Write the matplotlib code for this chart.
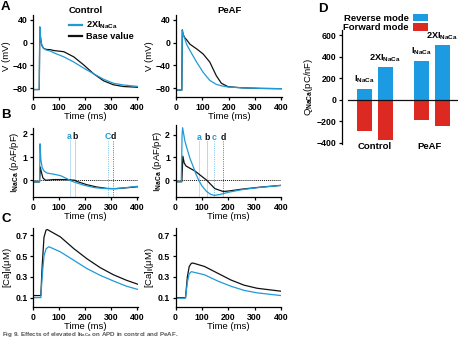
import matplotlib
matplotlib.use('Agg')
import matplotlib.pyplot as plt

plt.rcParams['font.family'] = ['Liberation Sans', 'DejaVu Sans']
plt.rcParams['font.weight'] = 'bold'
plt.rcParams['mathtext.fontset'] = 'custom'
plt.rcParams['mathtext.rm'] = 'Liberation Sans:bold'
plt.rcParams['mathtext.it'] = 'Liberation Sans:bold'
plt.rcParams['mathtext.bf'] = 'Liberation Sans:bold'
plt.rcParams['axes.linewidth'] = 0.9
plt.rcParams['xtick.major.width'] = 0.9
plt.rcParams['ytick.major.width'] = 0.9
plt.rcParams['xtick.major.size'] = 2.5
plt.rcParams['ytick.major.size'] = 2.5
plt.rcParams['xtick.major.pad'] = 1.5
plt.rcParams['ytick.major.pad'] = 1.5
plt.rcParams['xtick.labelsize'] = 6.3
plt.rcParams['ytick.labelsize'] = 6.3

BLUE = '#1f9ad6'
BLACK = '#111111'

# ---- A: action potentials (time ms, V mV)
ap_ctl_t = [0, 24, 26, 29, 33, 40, 50, 67, 80, 118, 156, 194, 232, 270, 308, 346, 400]
ap_ctl_base = [-82, -82, 27, 8, -4, -10, -12, -12.5, -14, -16, -25, -39, -54.5, -66.7, -73.7, -76.7, -78]
ap_ctl_2x = [-82, -82, 27, 8, -4, -10, -13, -15, -18, -25, -34, -44.6, -54.5, -64, -71, -74, -76.5]
ap_af_t = [0, 22, 24, 27, 34, 40, 53, 78, 103, 128, 153, 172, 197, 250, 320, 400]
ap_af_base = [-83, -83, 22, 14, 8, 5, -3, -11, -20, -34, -58, -71, -77, -79, -80, -80.5]
ap_af_2x = [-83, -83, 22, 14, 5.7, -3, -14, -34, -52, -66, -73, -75.5, -77.5, -79, -80, -80.5]

# ---- B: INaCa (pA/pF)
inc_ctl_2x_t = [0, 25, 27, 30, 35, 42, 54, 80, 105, 130, 140, 156, 194, 232, 270, 288, 308, 346, 400]
inc_ctl_2x = [-0.07, -0.07, 1.57, 0.9, 0.55, 0.4, 0.31, 0.26, 0.2, 0.07, 0.0, -0.07, -0.21, -0.31, -0.355, -0.36, -0.36, -0.33, -0.26]
inc_ctl_base_t = [0, 25, 28, 32, 38, 48, 80, 130, 160, 168, 206, 244, 282, 307, 320, 400]
inc_ctl_base = [-0.07, -0.07, 0.57, 0.35, 0.1, 0.0, 0.03, 0.03, 0.0, -0.05, -0.19, -0.29, -0.35, -0.36, -0.36, -0.28]
inc_af_2x_t = [0, 22, 25, 27, 35, 42, 55, 67, 78, 88, 100, 118, 133, 147, 168, 206, 256, 319, 400]
inc_af_2x = [-0.07, -0.07, 2.0, 2.3, 1.75, 1.45, 0.95, 0.6, 0.25, 0.0, -0.25, -0.5, -0.62, -0.67, -0.63, -0.52, -0.41, -0.32, -0.23]
inc_af_base_t = [0, 24, 28, 33, 40, 55, 74, 99, 118, 149, 181, 206, 256, 320, 400]
inc_af_base = [-0.07, -0.07, 1.05, 0.75, 0.62, 0.52, 0.4, 0.17, 0.0, -0.37, -0.5, -0.47, -0.39, -0.31, -0.23]

# marker times (a, b, c, d)
marks_ctl = [140, 160, 288, 307]
marks_af = [90, 118, 147, 181]
mark_names_ctl = ['a', 'b', 'C', 'd']
mark_names_af = ['a', 'b', 'c', 'd']

# ---- C: [Ca]i (uM)
ca_ctl_base_t = [0, 30, 35, 42, 50, 55, 105, 156, 206, 257, 308, 358, 400]
ca_ctl_base = [0.12, 0.12, 0.4, 0.68, 0.75, 0.755, 0.684, 0.572, 0.475, 0.389, 0.32, 0.267, 0.23]
ca_ctl_2x_t = [0, 30, 35, 42, 50, 61, 105, 156, 206, 257, 308, 358, 400]
ca_ctl_2x = [0.1, 0.1, 0.3, 0.5, 0.57, 0.59, 0.54, 0.46, 0.38, 0.315, 0.26, 0.21, 0.18]
ca_af_base_t = [0, 38, 45, 52, 60, 66, 110, 160, 210, 260, 310, 400]
ca_af_base = [0.1, 0.1, 0.3, 0.4, 0.43, 0.433, 0.40, 0.335, 0.27, 0.22, 0.19, 0.162]
ca_af_2x_t = [0, 38, 45, 52, 60, 110, 160, 210, 260, 310, 400]
ca_af_2x = [0.095, 0.095, 0.25, 0.33, 0.35, 0.32, 0.26, 0.21, 0.17, 0.146, 0.12]

# ---- D: QNaCa (pC/nF)
groups = ['Control', 'PeAF']
reverse_inaca = [100, 360]
reverse_2x = [310, 515]
forward_inaca = [-290, -185]
forward_2x = [-375, -245]

fig = plt.figure(figsize=(4.74, 3.38), dpi=100)
W, H = 474.0, 338.0


def add_ax(x0, x1, y0, y1):
    a = fig.add_axes([x0 / W, 1 - y1 / H, (x1 - x0) / W, (y1 - y0) / H])
    a.spines['top'].set_visible(False)
    a.spines['right'].set_visible(False)
    return a


def time_axis(ax):
    ax.set_xlim(0, 402)
    ax.set_xticks([0, 100, 200, 300, 400])
    ax.set_xlabel('Time (ms)', fontsize=6.8, labelpad=0.5)


# A
axA1 = add_ax(33, 138, 15, 97)
axA2 = add_ax(176, 282, 15, 97)
for ax, t, base, dbl, title in [(axA1, ap_ctl_t, ap_ctl_base, ap_ctl_2x, 'Control'),
                                (axA2, ap_af_t, ap_af_base, ap_af_2x, 'PeAF')]:
    ax.plot(t, base, color=BLACK, lw=0.9, label='Base value')
    ax.plot(t, dbl, color=BLUE, lw=0.9, label='2XI$_{NaCa}$')
    ax.set_ylim(-95, 48)
    ax.set_yticks([-80, -40, 0, 40])
    time_axis(ax)
    ax.set_title(title, fontsize=6.8, fontweight='bold', pad=1)
    ax.set_ylabel('V (mV)', fontsize=6.8, labelpad=1)
h, l = axA1.get_legend_handles_labels()
axA1.legend(h[::-1], l[::-1], loc='upper right', bbox_to_anchor=(1.02, 1.02), fontsize=6.6,
            frameon=False, handlelength=1.4, handletextpad=0.4, labelspacing=0.1, borderpad=0.2)
for line in axA1.get_legend().get_lines():
    line.set_linewidth(1.6)

# B
axB1 = add_ax(33, 138, 128, 197)
axB2 = add_ax(175.5, 281.5, 125, 197)
for ax, t1, y1, t2, y2, marks, names, ylim in [
        (axB1, inc_ctl_2x_t, inc_ctl_2x, inc_ctl_base_t, inc_ctl_base, marks_ctl, mark_names_ctl, (-0.72, 2.25)),
        (axB2, inc_af_2x_t, inc_af_2x, inc_af_base_t, inc_af_base, marks_af, mark_names_af, (-0.74, 2.42))]:
    ax.set_ylim(*ylim)
    ax.axhline(0, color=BLACK, lw=0.7, ls=(0, (1, 1)))
    styles = [(BLUE, '-', 0.35), ('#666666', '-', 0.35), (BLUE, ':', 0.8), (BLACK, ':', 0.8)]
    for m, nm, (c, ls, al) in zip(marks, names, styles):
        ax.plot([m, m], [ylim[0], 1.72], color=c, ls=ls, lw=0.6, alpha=al)
        ax.text(m, 1.88, nm, color=BLUE if c == BLUE else BLACK, fontsize=6.3,
                fontweight='bold', ha='center', va='center')
    ax.plot(t2, y2, color=BLACK, lw=0.9)
    ax.plot(t1, y1, color=BLUE, lw=0.9)
    ax.set_yticks([0, 1, 2])
    time_axis(ax)
    ax.set_ylabel('I$_{NaCa}$ (pAF/pF)', fontsize=6.8, labelpad=1)

# C
axC1 = add_ax(33, 138, 228, 307)
axC2 = add_ax(175.5, 281.5, 228, 307)
for ax, tb, yb, t2, y2 in [(axC1, ca_ctl_base_t, ca_ctl_base, ca_ctl_2x_t, ca_ctl_2x),
                           (axC2, ca_af_base_t, ca_af_base, ca_af_2x_t, ca_af_2x)]:
    ax.plot(tb, yb, color=BLACK, lw=0.9)
    ax.plot(t2, y2, color=BLUE, lw=0.9)
    ax.set_ylim(0.01, 0.77)
    ax.set_yticks([0.1, 0.3, 0.5, 0.7])
    time_axis(ax)
    ax.set_ylabel('[Ca]$_i$(μM)', fontsize=6.8, labelpad=1)

# D
axD = add_ax(342, 458, 30, 144)
axD.spines['bottom'].set_visible(False)
axD.set_xlim(0, 5.66)
axD.set_ylim(-410, 650)
axD.set_xticks([])
axD.set_yticks([-400, -200, 0, 200, 400, 600])
centers = [1.6, 4.4]
bw = 0.73
xs1 = [c - 0.5 for c in centers]
xs2 = [c + 0.5 for c in centers]
axD.bar(xs1, reverse_inaca, width=bw, color='#1c9be3', label='Reverse mode')
axD.bar(xs2, reverse_2x, width=bw, color='#1c9be3')
axD.bar(xs1, forward_inaca, width=bw, color='#dc2a22', label='Forward mode')
axD.bar(xs2, forward_2x, width=bw, color='#dc2a22')
axD.plot([0.3, 5.66], [0, 0], color=BLACK, lw=0.9)
for i in range(2):
    axD.text(xs1[i], reverse_inaca[i] + 40, 'I$_{NaCa}$', fontsize=6.6, ha='center', va='bottom')
    axD.text(xs2[i], reverse_2x[i] + 25, '2XI$_{NaCa}$', fontsize=6.6, ha='center', va='bottom')
    axD.text(centers[i] - 0.15 * i, -395, groups[i], fontsize=6.8, fontweight='bold', ha='center', va='top')
axD.set_ylabel('Q$_{NaCa}$(pC/nF)', fontsize=6.8, labelpad=1)
axD.legend(loc='lower left', bbox_to_anchor=(-0.04, 0.93), fontsize=6.8, frameon=False,
           markerfirst=False, handlelength=1.6, handleheight=0.8, handletextpad=0.5,
           labelspacing=0.05, borderpad=0.1)

# panel letters
for x, y, s in [(1, 10, 'A'), (1, 118, 'B'), (1, 222, 'C'), (318, 12, 'D')]:
    fig.text(x / W, 1 - y / H, s, fontsize=9.5, fontweight='bold')

fig.text(2 / W, 1 - 336 / H, 'Fig 9. Effects of elevated I$_{NaCa}$ on APD in control and PeAF.',
         fontsize=4.5, color='#555555')

fig.savefig('out.png', dpi=100)
